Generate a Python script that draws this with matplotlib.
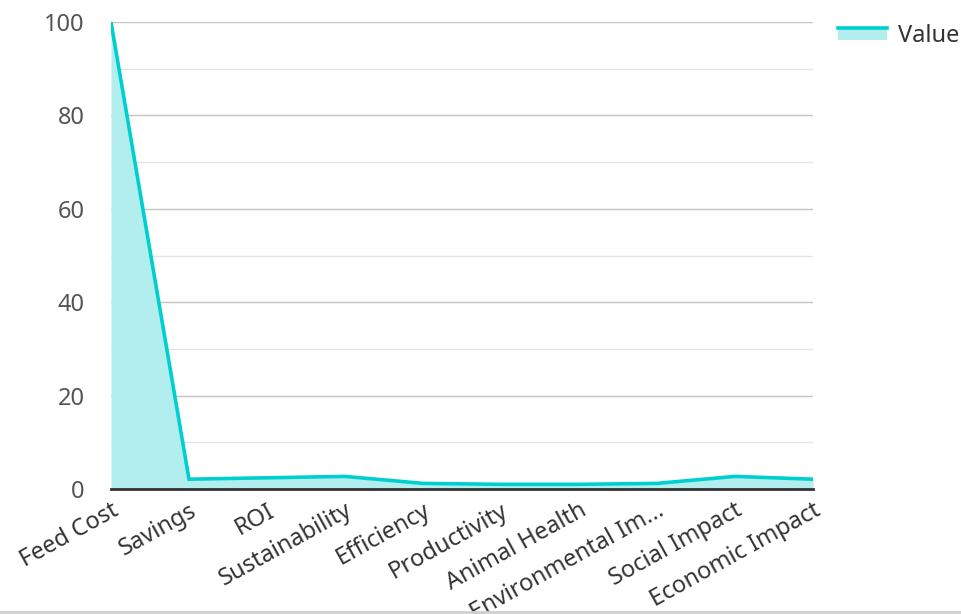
import matplotlib
matplotlib.use("Agg")
import matplotlib.pyplot as plt
from matplotlib.legend_handler import HandlerBase
from matplotlib.patches import Rectangle
from matplotlib.lines import Line2D

plt.rcParams['font.family'] = ['Noto Sans', 'DejaVu Sans']

categories = ["Feed Cost", "Savings", "ROI", "Sustainability", "Efficiency",
              "Productivity", "Animal Health", "Environmental Im...",
              "Social Impact", "Economic Impact"]
values = [100, 2.1, 2.4, 2.7, 1.2, 1.0, 1.0, 1.2, 2.7, 2.1]
y_ticks = [0, 20, 40, 60, 80, 100]
series_name = "Value"

LINE_COLOR = "#00cfd0"
FILL_COLOR = "#b2eeed"
FONT_SIZE = 17


class AreaHandler(HandlerBase):
    """Legend key: a filled swatch with the series line along its top edge."""
    def create_artists(self, legend, orig_handle, xdescent, ydescent,
                       width, height, fontsize, trans):
        top = height
        rect = Rectangle((-xdescent, -ydescent), width, top,
                         facecolor=FILL_COLOR, edgecolor='none', transform=trans)
        line = Line2D([-xdescent, -xdescent + width], [top, top],
                      color=LINE_COLOR, lw=2.6, transform=trans)
        return [rect, line]


fig = plt.figure(figsize=(9.62, 6.14), dpi=100)
ax = fig.add_axes([111 / 962, 1 - 489 / 614, (813 - 111) / 962, (489 - 22) / 614])

x = list(range(len(categories)))
ax.fill_between(x, values, 0, color=FILL_COLOR, linewidth=0, zorder=2)
line, = ax.plot(x, values, color=LINE_COLOR, lw=2.6, zorder=3,
                solid_joinstyle='miter')

ax.set_xlim(0, len(categories) - 1)
ax.set_ylim(0, 100)
ax.set_yticks(y_ticks)
ax.set_yticks([10, 30, 50, 70, 90], minor=True)
ax.grid(axis='y', which='major', color='#c4c4c4', lw=1, zorder=0)
ax.grid(axis='y', which='minor', color='#e4e4e4', lw=1, zorder=0)
ax.set_axisbelow(True)

for side in ('top', 'right', 'left'):
    ax.spines[side].set_visible(False)
ax.spines['bottom'].set_color('#333333')
ax.spines['bottom'].set_linewidth(2)
ax.spines['bottom'].set_zorder(4)

ax.tick_params(axis='y', which='both', length=0, pad=19, labelsize=FONT_SIZE,
               labelcolor='#555555')
ax.tick_params(axis='x', length=0, pad=7, labelsize=FONT_SIZE,
               labelcolor='#333333')
ax.set_xticks(x)
ax.set_xticklabels(categories, rotation=29, ha='right', rotation_mode='anchor')

ax.legend([line], [series_name], handler_map={Line2D: AreaHandler()},
          loc='upper left', bbox_to_anchor=(0.866, 0.969),
          bbox_transform=fig.transFigure, frameon=False, fontsize=FONT_SIZE,
          handlelength=2.1, handleheight=0.5, handletextpad=0.45,
          borderpad=0.2, borderaxespad=0, labelcolor='#333333')

# thin divider along the bottom edge
fig.add_artist(Line2D([0, 1], [0.004, 0.004], transform=fig.transFigure,
                      color='#d0d0d0', lw=2))

fig.savefig("out.png", dpi=100)
